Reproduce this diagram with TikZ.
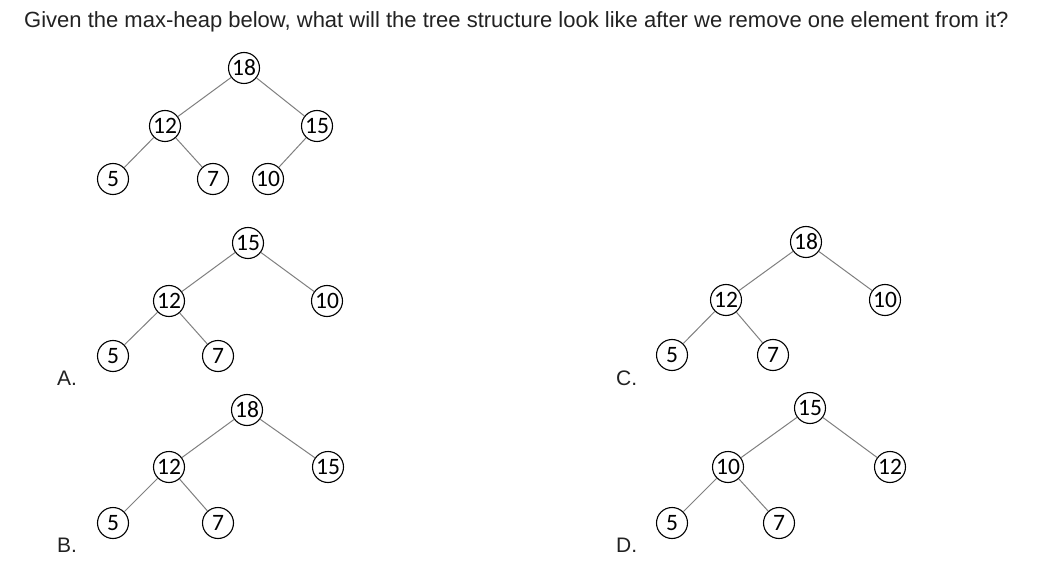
\documentclass[tikz,border=0pt]{standalone}
\usepackage{fontspec}
\setmainfont{Liberation Sans}
\newfontfamily\calfont{Carlito}
\definecolor{txt}{HTML}{222222}
\definecolor{edge}{HTML}{808080}
\begin{document}
\begin{tikzpicture}[x=1pt,y=-1pt,
  hn/.style={circle,draw=black,line width=1.1pt,inner sep=0pt,minimum size=31pt,font=\calfont\fontsize{23.5}{23.5}\selectfont},
  he/.style={draw=edge,line width=1pt},
  lab/.style={anchor=base west,font=\fontsize{21}{21}\selectfont,text=txt,inner sep=0pt}]
\useasboundingbox[fill=white] (0,0) rectangle (1049,569);
\node[anchor=base west,inner sep=0pt,text=txt,font=\fontsize{22}{22}\selectfont] (title) at (24,28)
  {Given the max-heap below, what will the tree structure look like after we remove one element from it?};
% original heap
\node[hn] (t0r) at (244,68) {18};
\node[hn] (t0a) at (165,126) {12};
\node[hn] (t0b) at (317,126) {15};
\node[hn] (t0c) at (113,179) {5};
\node[hn] (t0d) at (213,179) {7};
\node[hn] (t0e) at (268,179) {10};
\draw[he] (t0r) -- (t0a); \draw[he] (t0r) -- (t0b);
\draw[he] (t0a) -- (t0c); \draw[he] (t0a) -- (t0d);
\draw[he] (t0b) -- (t0e);
% A
\node[hn] (ar) at (248,243) {15};
\node[hn] (aa) at (169,301) {12};
\node[hn] (ab) at (327,301) {10};
\node[hn] (ac) at (113,356) {5};
\node[hn] (ad) at (218,356) {7};
\draw[he] (ar) -- (aa); \draw[he] (ar) -- (ab);
\draw[he] (aa) -- (ac); \draw[he] (aa) -- (ad);
\node[lab] (la) at (57,385) {A.};
% C
\node[hn] (cr) at (806,242) {18};
\node[hn] (ca) at (726,300) {12};
\node[hn] (cb) at (885,300) {10};
\node[hn] (cc) at (672,355) {5};
\node[hn] (cd) at (773,355) {7};
\draw[he] (cr) -- (ca); \draw[he] (cr) -- (cb);
\draw[he] (ca) -- (cc); \draw[he] (ca) -- (cd);
\node[lab] (lc) at (616,385) {C.};
% B
\node[hn] (br) at (247,410) {18};
\node[hn] (ba) at (169,467) {12};
\node[hn] (bb) at (328,467) {15};
\node[hn] (bc) at (113,523) {5};
\node[hn] (bd) at (218,523) {7};
\draw[he] (br) -- (ba); \draw[he] (br) -- (bb);
\draw[he] (ba) -- (bc); \draw[he] (ba) -- (bd);
\node[lab] (lb) at (57,552) {B.};
% D
\node[hn] (dr) at (810,408) {15};
\node[hn] (da) at (728,467) {10};
\node[hn] (db) at (890,467) {12};
\node[hn] (dc) at (672,523) {5};
\node[hn] (dd) at (779,523) {7};
\draw[he] (dr) -- (da); \draw[he] (dr) -- (db);
\draw[he] (da) -- (dc); \draw[he] (da) -- (dd);
\node[lab] (ld) at (616,552) {D.};
\end{tikzpicture}
\end{document}
